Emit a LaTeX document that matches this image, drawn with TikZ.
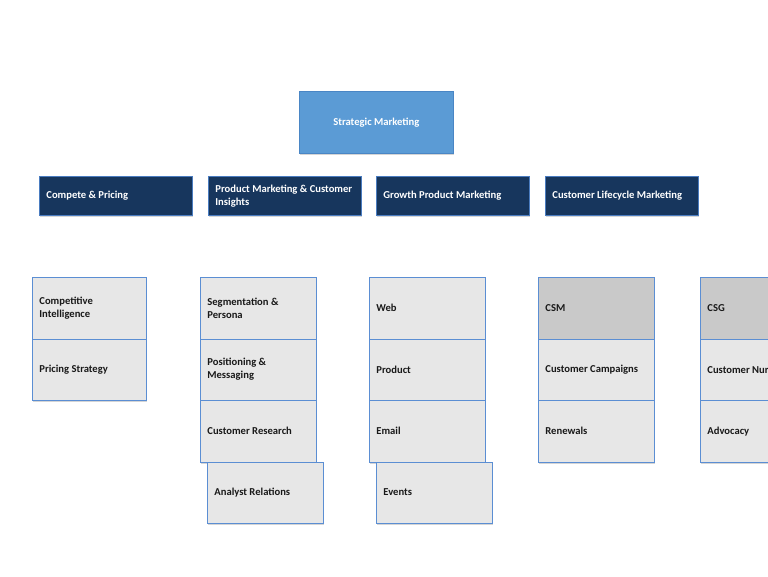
\documentclass[tikz,border=0pt]{standalone}
\usepackage{fontspec}
\setmainfont{Carlito}
\hyphenpenalty=10000
\exhyphenpenalty=10000
\usetikzlibrary{shadows}
\definecolor{topfill}{HTML}{5B9BD5}
\definecolor{topline}{HTML}{4A86C5}
\definecolor{navyfill}{HTML}{17365D}
\definecolor{navyline}{HTML}{4A7CC0}
\definecolor{cellfill}{HTML}{E7E7E7}
\definecolor{cellgray}{HTML}{C9C9C9}
\definecolor{cellline}{HTML}{5B8ED3}
\begin{document}
\begin{tikzpicture}[x=1pt,y=-1pt,
  base/.style={anchor=north west, inner xsep=7pt, inner ysep=0pt, align=flush left,
    font=\bfseries\fontsize{10.6}{13}\selectfont,
    drop shadow={shadow xshift=1pt, shadow yshift=-1.8pt, opacity=0.3, fill=black!55}},
  topbox/.style={base, draw=topline, line width=0.7pt, fill=topfill, text=white, align=flush center},
  headbox/.style={base, draw=navyline, line width=0.8pt, fill=navyfill, text=white},
  cell/.style={base, draw=cellline, line width=0.8pt, fill=cellfill, text=black!90},
  graycell/.style={cell, fill=cellgray},
]
\useasboundingbox (0,0) rectangle (768,576);
\clip (0,0) rectangle (768,576);

% level 1
\node[topbox, text width=140pt, minimum height=62pt] (sm) at (299,91) {Strategic Marketing};

% level 2
\node[headbox, text width=139pt, minimum height=39pt] (cp) at (39,176) {Compete \& Pricing};
\node[headbox, text width=139pt, minimum height=39pt] (pm) at (208,176) {Product Marketing \& Customer\\Insights};
\node[headbox, text width=139pt, minimum height=39pt] (gp) at (376,176) {Growth Product Marketing};
\node[headbox, text width=139pt, minimum height=39pt] (cl) at (545,176) {Customer Lifecycle Marketing};

% column 1
\node[cell, text width=100pt, minimum height=61.5pt] (ci) at (32,277) {Competitive\\Intelligence};
\node[cell, text width=100pt, minimum height=61.5pt] (ps) at (32,338.5) {Pricing Strategy};

% column 2
\node[cell, text width=102pt, minimum height=61.5pt] (sp) at (200,277) {Segmentation \&\\Persona};
\node[cell, text width=102pt, minimum height=61.5pt] (pos) at (200,338.5) {Positioning \&\\Messaging};
\node[cell, text width=102pt, minimum height=61.5pt] (cr) at (200,400) {Customer Research};
\node[cell, text width=102pt, minimum height=61pt] (ar) at (207,461.5) {Analyst Relations};

% column 3
\node[cell, text width=102pt, minimum height=61.5pt] (web) at (369,277) {Web};
\node[cell, text width=102pt, minimum height=61.5pt] (prod) at (369,338.5) {Product};
\node[cell, text width=102pt, minimum height=61.5pt] (email) at (369,400) {Email};
\node[cell, text width=102pt, minimum height=61pt] (ev) at (376,461.5) {Events};

% column 4
\node[graycell, text width=102pt, minimum height=61.5pt] (csm) at (538,277) {CSM};
\node[cell, text width=102pt, minimum height=61.5pt] (cc) at (538,338.5) {Customer Campaigns};
\node[cell, text width=102pt, minimum height=61.5pt] (ren) at (538,400) {Renewals};

% column 5 (runs off the page, as in the reference)
\node[graycell, text width=102pt, minimum height=61.5pt] (csg) at (700,277) {CSG};
\node[cell, text width=102pt, minimum height=61.5pt] (cn) at (700,338.5) {Customer Nurture};
\node[cell, text width=102pt, minimum height=61.5pt] (adv) at (700,400) {Advocacy};
\end{tikzpicture}
\end{document}
